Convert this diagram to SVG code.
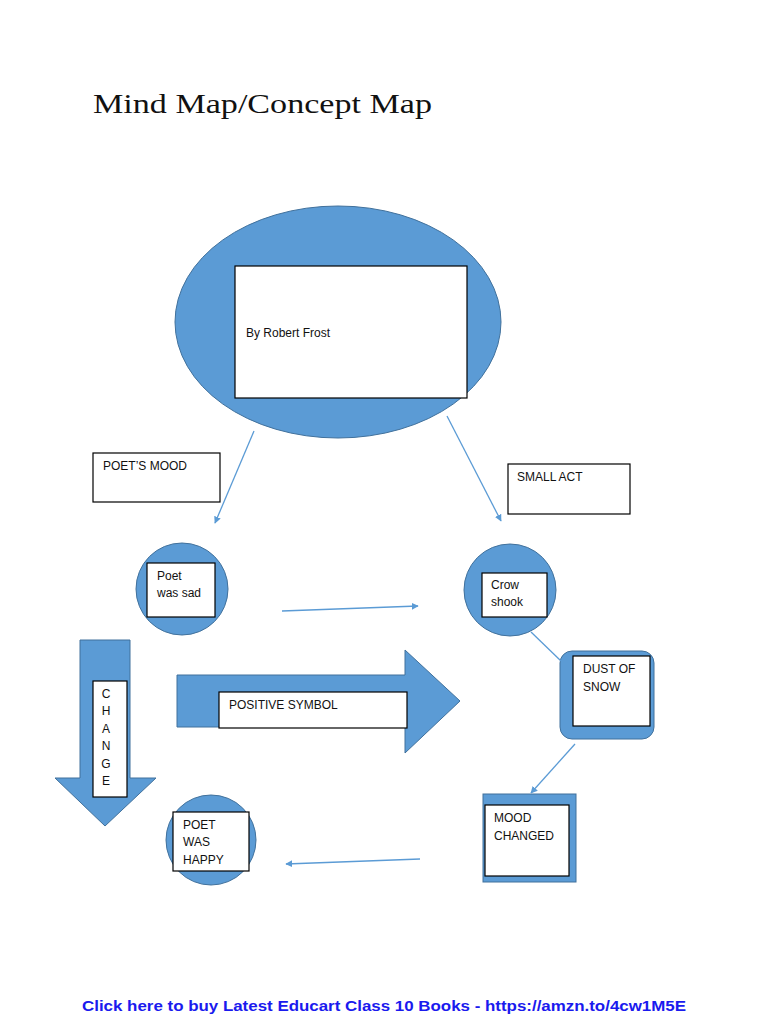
<svg xmlns="http://www.w3.org/2000/svg" width="768" height="1024" viewBox="0 0 768 1024">
<defs>
<style>
.shape{fill:#5b9bd5;stroke:#41719c;stroke-width:1}
.box{fill:#ffffff;stroke:#000000;stroke-width:1.2}
.lbl{font-family:"Liberation Sans","Open Sans",sans-serif;font-size:12px;fill:#111111}
.conn{stroke:#5b9bd5;stroke-width:1.3;fill:none}
</style>
<marker id="ah" viewBox="0 0 10 10" refX="9" refY="5" markerWidth="7" markerHeight="7" markerUnits="userSpaceOnUse" orient="auto">
<path d="M0,0 L10,5 L0,10 z" fill="#5b9bd5"/>
</marker>
</defs>
<rect width="768" height="1024" fill="#ffffff"/>
<text x="93" y="113" font-family="'Liberation Serif',serif" font-size="28" fill="#111111" textLength="339" lengthAdjust="spacingAndGlyphs">Mind Map/Concept Map</text>

<g id="poem">
<ellipse class="shape" cx="338" cy="322" rx="163" ry="116"/>
<rect class="box" x="235" y="266" width="232" height="132"/>
<text class="lbl" x="246" y="337">By Robert Frost</text>
</g>

<g id="poets-mood">
<rect class="box" x="93" y="453" width="127" height="49"/>
<text class="lbl" x="103" y="470">POET’S MOOD</text>
</g>

<g id="small-act">
<rect class="box" x="508" y="464" width="122" height="50"/>
<text class="lbl" x="517" y="481">SMALL ACT</text>
</g>

<g id="poet-sad">
<circle class="shape" cx="182" cy="589" r="46"/>
<rect class="box" x="147" y="563" width="68" height="54"/>
<text class="lbl" x="157" y="580">Poet</text>
<text class="lbl" x="157" y="597">was sad</text>
</g>

<g id="crow-shook">
<circle class="shape" cx="510" cy="590" r="46"/>
<rect class="box" x="482" y="573" width="65" height="44"/>
<text class="lbl" x="491" y="589">Crow</text>
<text class="lbl" x="491" y="606">shook</text>
</g>

<g id="dust-of-snow">
<rect class="shape" x="560" y="651" width="94" height="88" rx="12"/>
<rect class="box" x="573" y="656" width="77" height="70"/>
<text class="lbl" x="583" y="673">DUST OF</text>
<text class="lbl" x="583" y="691">SNOW</text>
</g>

<g id="mood-changed">
<rect class="shape" x="483" y="794" width="93" height="88"/>
<rect class="box" x="485" y="805" width="84" height="71"/>
<text class="lbl" x="494" y="822">MOOD</text>
<text class="lbl" x="494" y="840">CHANGED</text>
</g>

<g id="poet-happy">
<circle class="shape" cx="211" cy="840" r="45"/>
<rect class="box" x="173" y="812" width="76" height="59"/>
<text class="lbl" x="183" y="829">POET</text>
<text class="lbl" x="183" y="846">WAS</text>
<text class="lbl" x="183" y="864">HAPPY</text>
</g>

<g id="change">
<path class="shape" d="M80,640 L130,640 L130,778 L156,778 L105,826 L55,778 L80,778 Z"/>
<rect class="box" x="93" y="681" width="34" height="116"/>
<g class="lbl" text-anchor="middle">
<text x="106" y="698">C</text>
<text x="106" y="715">H</text>
<text x="106" y="733">A</text>
<text x="106" y="750">N</text>
<text x="106" y="768">G</text>
<text x="106" y="785">E</text>
</g>
</g>

<g id="positive-symbol">
<path class="shape" d="M177,675 L405,675 L405,650 L460,701 L405,753 L405,727 L177,727 Z"/>
<rect class="box" x="219" y="692" width="188" height="36"/>
<text class="lbl" x="229" y="709">POSITIVE SYMBOL</text>
</g>

<g id="connectors">
<line class="conn" x1="254" y1="431" x2="215" y2="523" marker-end="url(#ah)"/>
<line class="conn" x1="447" y1="416" x2="501" y2="521" marker-end="url(#ah)"/>
<line class="conn" x1="282" y1="611" x2="418" y2="606" marker-end="url(#ah)"/>
<line class="conn" x1="531" y1="632" x2="561" y2="661" stroke-width="0.8"/>
<line class="conn" x1="575" y1="744" x2="531" y2="793" marker-end="url(#ah)"/>
<line class="conn" x1="420" y1="859" x2="286" y2="864" marker-end="url(#ah)"/>
</g>

<text x="82" y="1011" font-family="'Liberation Sans',Arial,sans-serif" font-size="15" font-weight="bold" fill="#1a1aee" textLength="604" lengthAdjust="spacingAndGlyphs">Click here to buy Latest Educart Class 10 Books - https://amzn.to/4cw1M5E</text>
</svg>
